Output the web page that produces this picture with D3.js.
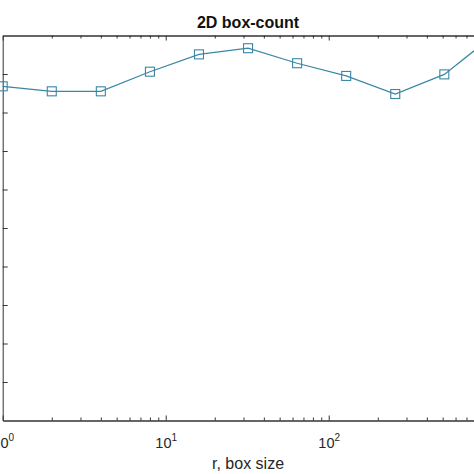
<!DOCTYPE html>
<html>
<head>
<meta charset="utf-8">
<script src="https://cdn.jsdelivr.net/npm/d3@7"></script>
<style>
  body { margin: 0; background: #fff; }
  svg { display: block; font-family: "Liberation Sans", Arial, sans-serif; }
</style>
</head>
<body>
<div id="chart"></div>
<script>
// box sizes and measured dimension values
var boxSizes = [1, 2, 4, 8, 16, 32, 64, 128, 256, 512, 1024];
var dimValues = [1.868, 1.855, 1.855, 1.906, 1.951, 1.967, 1.928, 1.895, 1.848, 1.899, 2.0];
var xMajorTicks = [1, 10, 100, 1000];
var xLabelTicks = [1, 10, 100];
var yTicks = [1.1, 1.2, 1.3, 1.4, 1.5, 1.6, 1.7, 1.8, 1.9];

var width = 474;
var height = 474;
var lineColor = "#3a86a6";
var axisColor = "#333";

var svg = d3.select("#chart")
  .append("svg")
    .attr("width", width)
    .attr("height", height);

// log x scale, axes box runs a bit past the right edge of the picture
var x = d3.scaleLog()
  .domain([1, 1024])
  .range([2.7, 493.4]);

var y = d3.scaleLinear()
  .domain([1, 2])
  .range([420.5, 35.5]);

// minor log ticks
var xMinor = [];
[1, 10, 100].forEach(function(dec) {
  for (var k = 2; k <= 9; k++) {
    if (dec * k <= 1024) xMinor.push(dec * k);
  }
});

function styleAxis(g) {
  g.select(".domain").attr("stroke", axisColor);
  g.selectAll(".tick line").attr("stroke", axisColor);
  g.selectAll("text").attr("fill", "#262626");
}

// bottom axis: minor, major ticks, then labels
svg.append("g")
  .attr("transform", "translate(0," + y.range()[0] + ")")
  .call(d3.axisBottom(x).tickValues(xMinor).tickSize(-3).tickSizeOuter(0).tickFormat(""))
  .call(styleAxis);

svg.append("g")
  .attr("transform", "translate(0," + y.range()[0] + ")")
  .call(d3.axisBottom(x).tickValues(xMajorTicks).tickSize(-5).tickSizeOuter(0).tickFormat(""))
  .call(styleAxis);

var xAxis = svg.append("g")
  .attr("transform", "translate(0," + y.range()[0] + ")")
  .call(d3.axisBottom(x).tickValues(xLabelTicks).tickSize(0).tickSizeOuter(0).tickPadding(17))
  .call(styleAxis);
xAxis.select(".domain").remove();

xAxis.selectAll(".tick text")
  .attr("font-size", 14.5)
  .attr("font-family", "Liberation Sans, Arial, sans-serif")
  .each(function(d) {
    var t = d3.select(this);
    t.text(null);
    t.append("tspan").text("10");
    t.append("tspan")
      .attr("dy", -6.5)
      .attr("font-size", 10)
      .text(Math.round(Math.log10(d)));
  });

// top axis, mirrored ticks
svg.append("g")
  .attr("transform", "translate(0," + y.range()[1] + ")")
  .call(d3.axisTop(x).tickValues(xMinor).tickSize(-3).tickSizeOuter(0).tickFormat(""))
  .call(styleAxis);
svg.append("g")
  .attr("transform", "translate(0," + y.range()[1] + ")")
  .call(d3.axisTop(x).tickValues(xMajorTicks).tickSize(-5).tickSizeOuter(0).tickFormat(""))
  .call(styleAxis);

// left axis (its labels lie outside the picture)
svg.append("g")
  .attr("transform", "translate(" + x.range()[0] + ",0)")
  .call(d3.axisLeft(y).tickValues(yTicks).tickSize(-5).tickSizeOuter(0).tickFormat(""))
  .call(styleAxis);

// right axis
svg.append("g")
  .attr("transform", "translate(" + x.range()[1] + ",0)")
  .call(d3.axisRight(y).tickValues(yTicks).tickSize(-5).tickSizeOuter(0).tickFormat(""))
  .call(styleAxis);

// line + square markers
var pts = boxSizes.map(function(r, i) { return [r, dimValues[i]]; });

svg.append("path")
  .datum(pts)
  .attr("fill", "none")
  .attr("stroke", lineColor)
  .attr("stroke-width", 1.2)
  .attr("d", d3.line()
    .x(function(d) { return x(d[0]); })
    .y(function(d) { return y(d[1]); }));

svg.selectAll("rect.marker")
  .data(pts)
  .enter().append("rect")
    .attr("class", "marker")
    .attr("x", function(d) { return x(d[0]) - 4.5; })
    .attr("y", function(d) { return y(d[1]) - 4.5; })
    .attr("width", 9)
    .attr("height", 9)
    .attr("fill", "none")
    .attr("stroke", lineColor)
    .attr("stroke-width", 1.1);

// title and x label
var cx = (x.range()[0] + x.range()[1]) / 2;

svg.append("text")
  .attr("x", cx)
  .attr("y", 27.5)
  .attr("text-anchor", "middle")
  .attr("font-size", 16)
  .attr("font-weight", "bold")
  .attr("fill", "#111")
  .text("2D box-count");

svg.append("text")
  .attr("x", cx)
  .attr("y", 469)
  .attr("text-anchor", "middle")
  .attr("font-size", 16)
  .attr("fill", "#262626")
  .text("r, box size");
</script>
</body>
</html>
